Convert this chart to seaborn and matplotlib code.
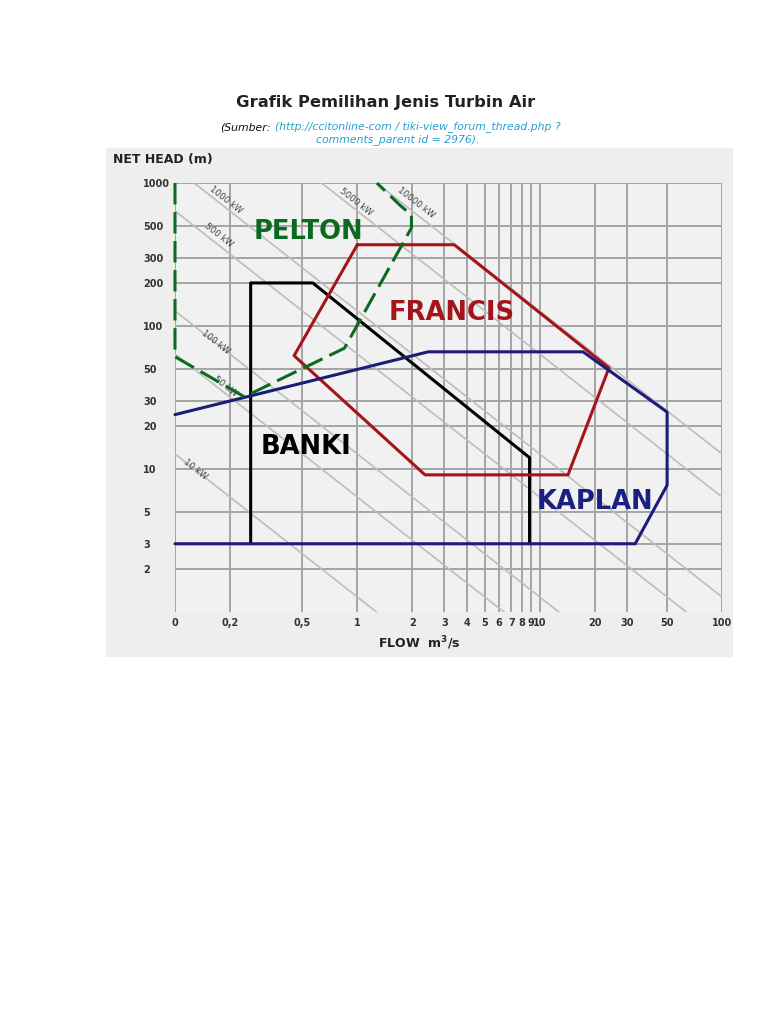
import matplotlib
matplotlib.use("Agg")
import matplotlib.pyplot as plt
import pandas as pd
import seaborn as sns
from matplotlib.patches import Rectangle

# =========================================
# DATA (flow Q in m3/s, net head H in m)
# =========================================

pelton_q = [0.1, 0.1, 0.24, 0.85, 1.98, 1.98, 1.71, 1.28]
pelton_h = [1000, 61, 32, 70, 485, 597, 701, 1000]

francis_q = [1.0, 3.4, 24, 14.3, 2.35, 0.45, 1.0]
francis_h = [370, 370, 51, 9.1, 9.1, 62, 370]

banki_q = [0.26, 0.26, 0.57, 8.8, 8.8]
banki_h = [3, 200, 200, 12, 3]

kaplan_q = [0.1, 2.45, 17.3, 50, 50, 33.4, 0.1]
kaplan_h = [24, 66, 66, 25, 7.7, 3, 3]

# iso-power lines (kW) and where their labels sit
power_kw = [10, 50, 100, 500, 1000, 5000, 10000]
power_labels = ["10 kW", "50 kW", "100 kW", "500 kW", "1000 kW", "5000 kW", "10000 kW"]
power_label_q = [0.129, 0.19, 0.166, 0.174, 0.19, 0.98, 2.1]
power_label_h = [10, 38, 77, 433, 760, 737, 725]

x_ticks = [0.1, 0.2, 0.5, 1, 2, 3, 4, 5, 6, 7, 8, 9, 10, 20, 30, 50, 100]
x_tick_labels = ["0", "0,2", "0,5", "1", "2", "3", "4", "5", "6", "7", "8",
                 "9", "10", "20", "30", "50", "100"]
y_ticks = [2, 3, 5, 10, 20, 30, 50, 100, 200, 300, 500, 1000]
y_tick_labels = [str(v) for v in y_ticks]

# =========================================
# FIGURE
# =========================================

sns.set_style("white")

W, H = 768, 1024
fig = plt.figure(figsize=(7.68, 10.24), dpi=100)
fig.patch.set_facecolor("white")

# grey scanned panel
fig.patches.append(Rectangle(
    (106 / W, 1 - 657 / H), (733 - 106) / W, (657 - 148) / H,
    transform=fig.transFigure, facecolor="#eeeeee", edgecolor="none", zorder=-10
))

ax = fig.add_axes([175 / W, 1 - 612 / H, (722 - 175) / W, (612 - 183) / H])
ax.set_zorder(2)
ax.set_facecolor("#f1f1f1")

ax.set_xscale("log")
ax.set_yscale("log")
ax.set_xlim(0.1, 100)
ax.set_ylim(1, 1000)

# iso-power lines: P = 9.81 * 0.8 * Q * H
for p in power_kw:
    qh = p / (9.81 * 0.8)
    line_df = pd.DataFrame({"q": [0.1, 100], "h": [qh / 0.1, qh / 100]})
    sns.lineplot(data=line_df, x="q", y="h", sort=False, estimator=None,
                 color="#bdbdbd", linewidth=1.2, ax=ax, zorder=2)

for lab, q, h in zip(power_labels, power_label_q, power_label_h):
    ax.text(q, h, lab, rotation=-38, ha="center", va="center",
            fontsize=6.3, color="#444444", zorder=3)

# turbine areas
areas = [
    (banki_q, banki_h, "black", "-"),
    (francis_q, francis_h, "#a5141c", "-"),
    (kaplan_q, kaplan_h, "#1b1b78", "-"),
    (pelton_q, pelton_h, "#0b6a1f", (0, (7, 2.5))),
]

for q, h, col, ls in areas:
    area_df = pd.DataFrame({"q": q, "h": h})
    sns.lineplot(data=area_df, x="q", y="h", sort=False, estimator=None,
                 color=col, linewidth=2.2, linestyle=ls, ax=ax,
                 zorder=5, clip_on=False)

ax.text(0.54, 454, "PELTON", color="#0b6a1f", fontsize=18.5, fontweight="bold",
        ha="center", va="center", zorder=6)
ax.text(3.31, 123, "FRANCIS", color="#a5141c", fontsize=18.5, fontweight="bold",
        ha="center", va="center", zorder=6)
ax.text(0.52, 14.3, "BANKI", color="black", fontsize=18.5, fontweight="bold",
        ha="center", va="center", zorder=6)
ax.text(20.1, 5.9, "KAPLAN", color="#1b1f80", fontsize=18.5, fontweight="bold",
        ha="center", va="center", zorder=6)

# grid + ticks
ax.set_xticks(x_ticks)
ax.set_xticklabels(x_tick_labels)
ax.set_yticks(y_ticks)
ax.set_yticklabels(y_tick_labels, ha="left")
ax.minorticks_off()
ax.grid(True, which="major", color="#a4a4a4", linewidth=1.4, zorder=1)
ax.set_axisbelow(True)
ax.tick_params(axis="both", length=0, labelsize=7, labelcolor="#333333")
ax.tick_params(axis="x", pad=4)
ax.tick_params(axis="y", pad=23)
for t in ax.get_xticklabels() + ax.get_yticklabels():
    t.set_fontweight("bold")
for s in ax.spines.values():
    s.set_visible(False)
ax.set_xlabel("")
ax.set_ylabel("")

# labels outside the axes
fig.text(113 / W, 1 - 160 / H, "NET HEAD (m)", fontsize=9, fontweight="bold",
         ha="left", va="center", color="#222222")
fig.text(378 / W, 1 - 643 / H, "FLOW  m$^\\mathbf{3}$/s", fontsize=9,
         fontweight="bold", ha="left", va="center", color="#222222")

# title and source
fig.text(386 / W, 1 - 102 / H, "Grafik Pemilihan Jenis Turbin Air",
         fontsize=11.8, fontweight="bold", ha="center", va="center", color="#222222")
fig.text(271 / W, 1 - 127 / H, "(Sumber:", fontsize=7.8, style="italic",
         ha="right", va="center", color="#111111")
fig.text(275 / W, 1 - 127 / H, "(http://ccitonline-com / tiki-view_forum_thread.php ?",
         fontsize=7.8, style="italic", ha="left", va="center", color="#2a9fd0")
fig.text(398 / W, 1 - 140 / H, "comments_parent id = 2976).",
         fontsize=7.8, style="italic", ha="center", va="center", color="#2a9fd0")

fig.savefig("out.png", dpi=100)
